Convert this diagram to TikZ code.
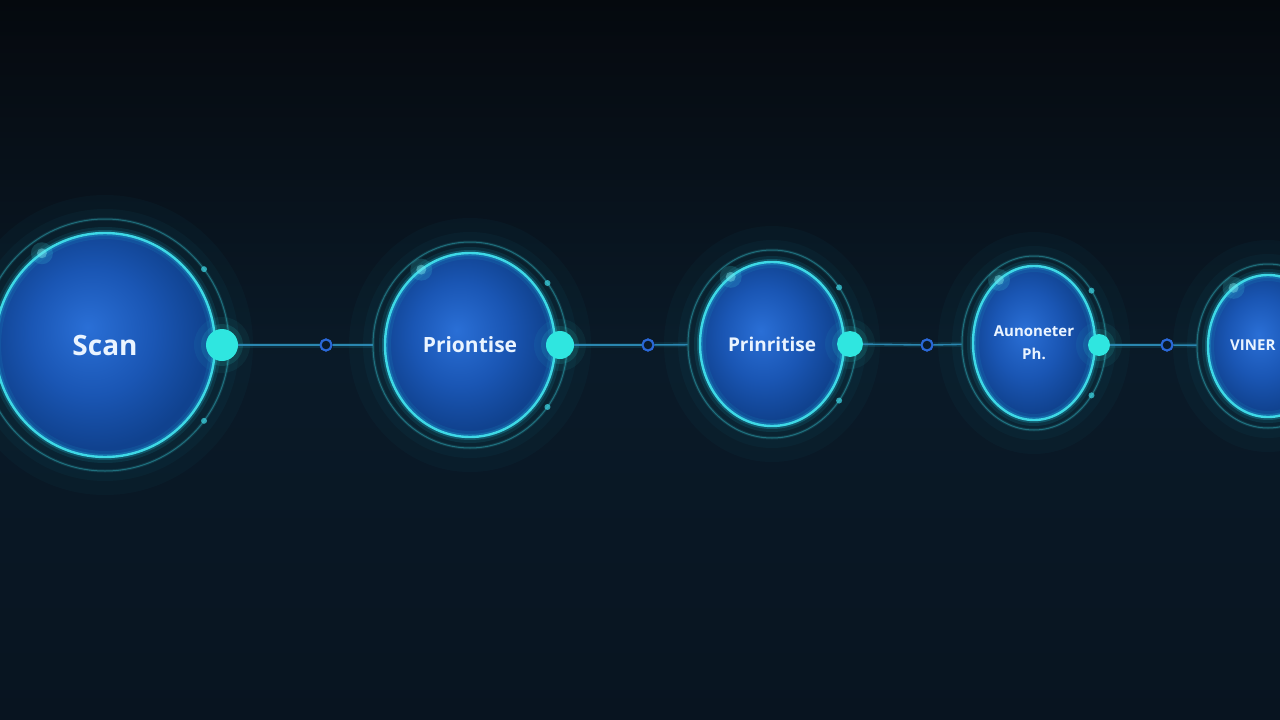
\documentclass[tikz,border=0pt]{standalone}
\usepackage{fontspec}
\setmainfont{Open Sans}
\usetikzlibrary{shapes.geometric}
\definecolor{bgtop}{HTML}{05090E}
\definecolor{bgmid}{HTML}{0A1A28}
\definecolor{bgbot}{HTML}{081420}
\definecolor{rim}{HTML}{3ED8E6}
\definecolor{glowc}{HTML}{22C4E0}
\definecolor{discin}{HTML}{2A6FD6}
\definecolor{discmid}{HTML}{1A56B4}
\definecolor{discout}{HTML}{10428F}
\definecolor{dotc}{HTML}{2FE6E0}
\definecolor{linec}{HTML}{2B86B0}
\definecolor{ringc}{HTML}{2A68D8}
\definecolor{txt}{HTML}{EAF4FF}
\pgfdeclareradialshading{discshade}{\pgfpoint{-4bp}{4bp}}{color(0bp)=(discin); color(14bp)=(discmid); color(25bp)=(discout); color(50bp)=(discout)}
\tikzset{
  disc/.style={ellipse, inner sep=0pt, shade, shading=discshade},
  outerring/.style={ellipse, inner sep=0pt, draw=rim, draw opacity=0.35, line width=1},
  dotn/.style={circle, fill=dotc, inner sep=0pt},
  smallring/.style={circle, draw=ringc, line width=2, inner sep=0pt, minimum size=11pt, fill=bgmid},
  conn/.style={draw=linec, line width=1.6},
  connglow/.style={draw=glowc, line width=5, opacity=0.12},
  stagetxt/.style={text=txt, align=center, inner sep=0pt},
}
% #1 name, #2 cx, #3 cy, #4 rx, #5 ry, #6 outer rx, #7 outer ry
\newcommand\mystage[7]{%
  \fill[glowc, opacity=0.03] (#2,#3) ellipse [x radius=#6+24, y radius=#7+24];
  \fill[glowc, opacity=0.04] (#2,#3) ellipse [x radius=#6+10, y radius=#7+10];
  \node[outerring, minimum width={2*#6pt}, minimum height={2*#7pt}] (o#1) at (#2,#3) {};
  \draw[rim, line width=3, opacity=0.12] (#2,#3) ellipse [x radius=#6, y radius=#7];
  \node[disc, minimum width={2*#4pt}, minimum height={2*#5pt}] (c#1) at (#2,#3) {};
  \draw[glowc, line width=12, opacity=0.10] (#2,#3) ellipse [x radius=#4, y radius=#5];
  \draw[glowc, line width=6, opacity=0.25] (#2,#3) ellipse [x radius=#4, y radius=#5];
  \draw[rim, line width=2.4] (#2,#3) ellipse [x radius=#4, y radius=#5];
  \fill[rim, opacity=0.18] (#2,#3) ++(-125:#4 and #5) circle [radius=11];
  \fill[rim!70!white, opacity=0.45] (#2,#3) ++(-125:#4 and #5) circle [radius=5];
  \fill[rim, opacity=0.7] (#2,#3) ++(-37:#6 and #7) circle [radius=3];
  \fill[rim, opacity=0.7] (#2,#3) ++(37:#6 and #7) circle [radius=3];
}
% #1 name, #2 x, #3 y, #4 r
\newcommand\mydot[4]{%
  \fill[dotc, opacity=0.06] (#2,#3) circle [radius=#4+12];
  \fill[dotc, opacity=0.12] (#2,#3) circle [radius=#4+5];
  \node[dotn, minimum size={2*#4pt}] (#1) at (#2,#3) {};
}
\begin{document}
\begin{tikzpicture}[x=1pt, y=-1pt]
\useasboundingbox (0,0) rectangle (1280,720);
\shade[top color=bgtop, bottom color=bgbot, middle color=bgmid] (0,0) rectangle (1280,720);
\begin{scope}
\clip (0,0) rectangle (1280,720);

% small connector rings
\node[smallring] (r1) at (326,345) {};
\node[smallring] (r2) at (648,345) {};
\node[smallring] (r3) at (927,345) {};
\node[smallring] (r4) at (1167,345) {};

\mystage{1}{105}{345}{110}{112}{124}{126}
\mystage{2}{470}{345}{85}{92}{97}{103}
\mystage{3}{772}{344}{72}{82}{84}{94}
\mystage{4}{1034}{343}{61}{77}{72}{87}
\mystage{5}{1268}{346}{60}{71}{71}{82}

\mydot{d1}{222}{345}{16}
\mydot{d2}{560}{345}{14}
\mydot{d3}{850}{344}{13}
\mydot{d4}{1099}{345}{11}

% connectors
\draw[connglow] (d1) -- (r1); \draw[conn] (d1) -- (r1);
\draw[connglow] (r1) -- (o2); \draw[conn] (r1) -- (o2);
\draw[connglow] (d2) -- (r2); \draw[conn] (d2) -- (r2);
\draw[connglow] (r2) -- (o3); \draw[conn] (r2) -- (o3);
\draw[connglow] (d3) -- (r3); \draw[conn] (d3) -- (r3);
\draw[connglow] (r3) -- (o4); \draw[conn] (r3) -- (o4);
\draw[connglow] (d4) -- (r4); \draw[conn] (d4) -- (r4);
\draw[connglow] (r4) -- (o5); \draw[conn] (r4) -- (o5);
\node[smallring] at (r1) {};
\node[smallring] at (r2) {};
\node[smallring] at (r3) {};
\node[smallring] at (r4) {};

% labels
\node[stagetxt, font=\bfseries\fontsize{28}{34}\selectfont] (t1) at (c1) {Scan};
\node[stagetxt, font=\bfseries\fontsize{21}{25}\selectfont] (t2) at (c2) {Priontise};
\node[stagetxt, font=\bfseries\fontsize{19}{23}\selectfont] (t3) at (c3) {Prinritise};
\node[stagetxt, font=\bfseries\fontsize{15}{23}\selectfont] (t4) at (c4) {Aunoneter\\Ph.};
\node[stagetxt, font=\bfseries\fontsize{15}{18}\selectfont, anchor=west] (t5) at (1230,345) {VINER};
\end{scope}
\end{tikzpicture}
\end{document}
